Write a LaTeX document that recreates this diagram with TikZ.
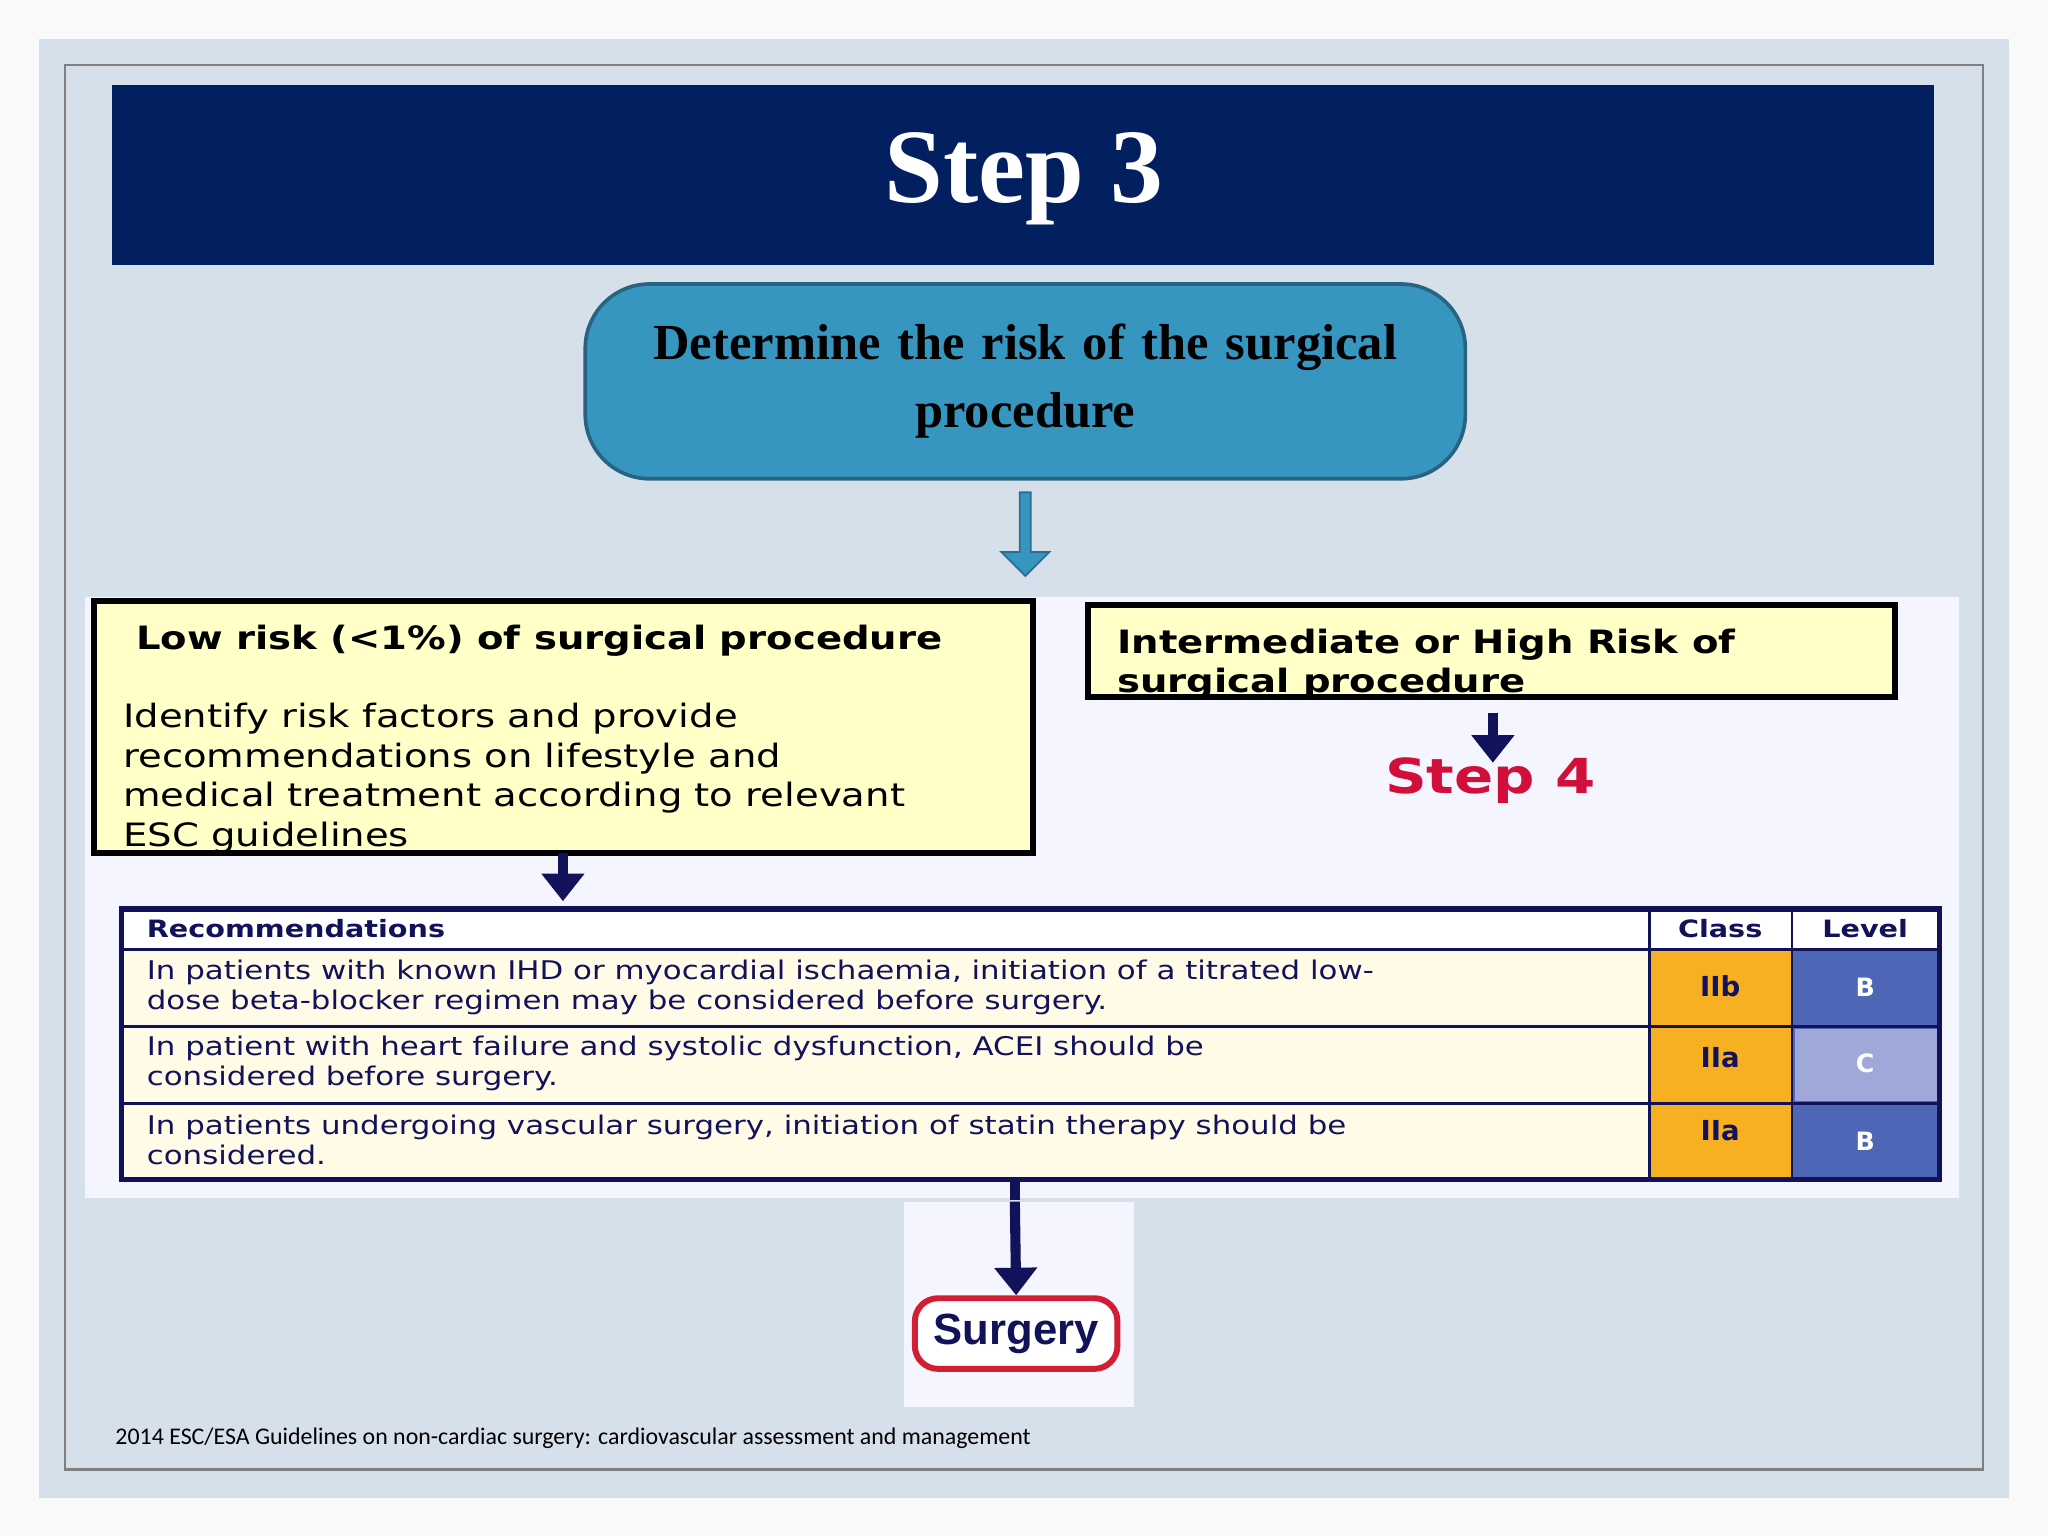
\documentclass[tikz,border=0pt]{standalone}
\usepackage{fontspec}
\setmainfont{Liberation Serif}
\newfontfamily\djv{DejaVu Sans}
\newfontfamily\djw{DejaVu Sans}[FakeStretch=1.2]
\newfontfamily\libs{Liberation Sans}
\newfontfamily\carl{Carlito}
\usetikzlibrary{shapes.arrows,arrows.meta}
\definecolor{navy}{HTML}{021F60}
\definecolor{teal}{HTML}{3796C0}
\definecolor{ylw}{HTML}{FFFFC8}
\definecolor{rowy}{HTML}{FFFBE6}
\definecolor{org}{HTML}{F8B023}
\definecolor{lvl}{HTML}{4D66B5}
\definecolor{lvlc}{HTML}{9FA8D8}
\definecolor{dark}{HTML}{12125A}
\definecolor{bgb}{HTML}{D6E0EA}
\begin{document}
\begin{tikzpicture}[x=0.01cm,y=-0.01cm,
 box/.style={draw=black,line width=1.3pt,fill=ylw},
 dn/.style={-{Triangle[width=9pt,length=6pt]},line width=2.2pt,draw=dark},
 cell/.style={font=\djw\fontsize{5.6}{6.6}\selectfont,anchor=west,align=left,text=dark}]
\useasboundingbox (0,0) rectangle (1568,1176);
\fill[white!95!gray] (0,0) rectangle (1568,1176);
\fill[bgb] (30,30) rectangle (1538,1147);
\draw[gray,line width=0.5pt] (50,50) rectangle (1518,1125);
\fill[navy] (86,65) rectangle (1481,203);
\node[text=white,font=\bfseries\fontsize{23}{26}\selectfont] (t) at (784,137) {Step 3};
\node[draw={rgb,255:red,40;green,100;blue,130},line width=0.8pt,fill=teal,rounded corners=14pt,minimum width=6.73cm,
 text width=6.5cm,align=center,minimum height=1.49cm,font=\bfseries\fontsize{11}{14.8}\selectfont] (d) at (785,292) {Determine the risk of the surgical\\procedure};
\node[single arrow,shape border rotate=270,fill=teal,draw={rgb,255:red,40;green,110;blue,150},minimum height=0.64cm,
 single arrow head extend=4pt,single arrow tip angle=90,minimum width=0.3cm,inner sep=1pt,anchor=tip] (ar) at (785,442) {};
\fill[white!96!blue] (65,457) rectangle (1500,917);
\draw[box] (72,460) rectangle (791,653);
\node[anchor=north west,font=\djw\bfseries\fontsize{7}{8.5}\selectfont] (lt) at (92,466) {Low risk (<1\%) of surgical procedure};
\node[anchor=north west,align=left,font=\djw\fontsize{7}{8.6}\selectfont] (lb) at (82,526) {Identify risk factors and provide\\recommendations on lifestyle and\\medical treatment according to relevant\\ESC guidelines};
\draw[box] (833,463) rectangle (1451,534);
\node[anchor=north west,align=left,font=\djw\bfseries\fontsize{7}{8.6}\selectfont] (rt) at (843,469) {Intermediate or High Risk of\\surgical procedure};
\node[text={rgb,255:red,208;green,16;blue,58},font=\djw\bfseries\fontsize{10.5}{12}\selectfont] (s4) at (1141,598) {Step 4};
\coordinate (r1) at (1143,546); \coordinate (r2) at (1143,584);
\draw[dn] (r1) -- (r2);
\coordinate (l1) at (431,653); \coordinate (l2) at (431,690);
\draw[dn] (l1) -- (l2);
% table
\fill[white] (93,696) rectangle (1485,727);
\fill[rowy] (93,727) rectangle (1263,903);
\fill[org] (1263,727) rectangle (1372,903);
\fill[lvl] (1372,727) rectangle (1485,903);
\fill[lvlc] (1374,788) rectangle (1483,843);
\draw[dark,line width=0.6pt] (93,727) -- (1485,727) (93,786) -- (1485,786) (93,845) -- (1485,845) (1263,696) -- (1263,903) (1372,696) -- (1372,903);
\draw[dark,line width=1.2pt] (93,696) rectangle (1485,903);
\node[cell,font=\djw\bfseries\fontsize{5.2}{6}\selectfont] (h1) at (100,711) {Recommendations};
\node[font=\djw\bfseries\fontsize{5.2}{6}\selectfont,text=dark] (h2) at (1317,711) {Class};
\node[font=\djw\bfseries\fontsize{5.2}{6}\selectfont,text=dark] (h3) at (1428,711) {Level};
\node[cell] (c1) at (100,756) {In patients with known IHD or myocardial ischaemia, initiation of a titrated low-\\dose beta-blocker regimen may be considered before surgery.};
\node[cell] (c2) at (100,814) {In patient with heart failure and systolic dysfunction, ACEI should be\\considered before surgery.};
\node[cell] (c3) at (100,873) {In patients undergoing vascular surgery, initiation of statin therapy should be\\considered.};
\tikzset{cl/.style={font=\djv\bfseries\fontsize{6}{7}\selectfont,text=dark},lv/.style={font=\djv\bfseries\fontsize{5.5}{6}\selectfont,text=white}}
\node[cl] (k1) at (1317,755) {IIb};
\node[cl] (k2) at (1317,810) {IIa};
\node[cl] (k3) at (1317,866) {IIa};
\node[lv] (v1) at (1428,756) {B};
\node[lv] (v2) at (1428,814) {C};
\node[lv] (v3) at (1428,874) {B};
% surgery
\fill[white!96!blue] (692,920) rectangle (868,1077);
\coordinate (s0) at (777,905); \coordinate (s1) at (777,920);
\draw[dark,line width=2.2pt,dash pattern=on 4pt off 3pt] (s0) -- (s1);
\node[draw={rgb,255:red,210;green,30;blue,50},line width=1.3pt,fill=white,rounded corners=5pt,minimum width=1.55cm,minimum height=0.54cm,
 text=dark,font=\libs\bfseries\fontsize{9.5}{11}\selectfont] (sg) at (778,1021) {Surgery};
\draw[dn] (s1) -- (sg.north);
\node[anchor=west,font=\carl\fontsize{5.2}{6}\selectfont] (fn) at (76,1101) {2014 ESC/ESA Guidelines on non-cardiac surgery: cardiovascular assessment and management};
\end{tikzpicture}
\end{document}
